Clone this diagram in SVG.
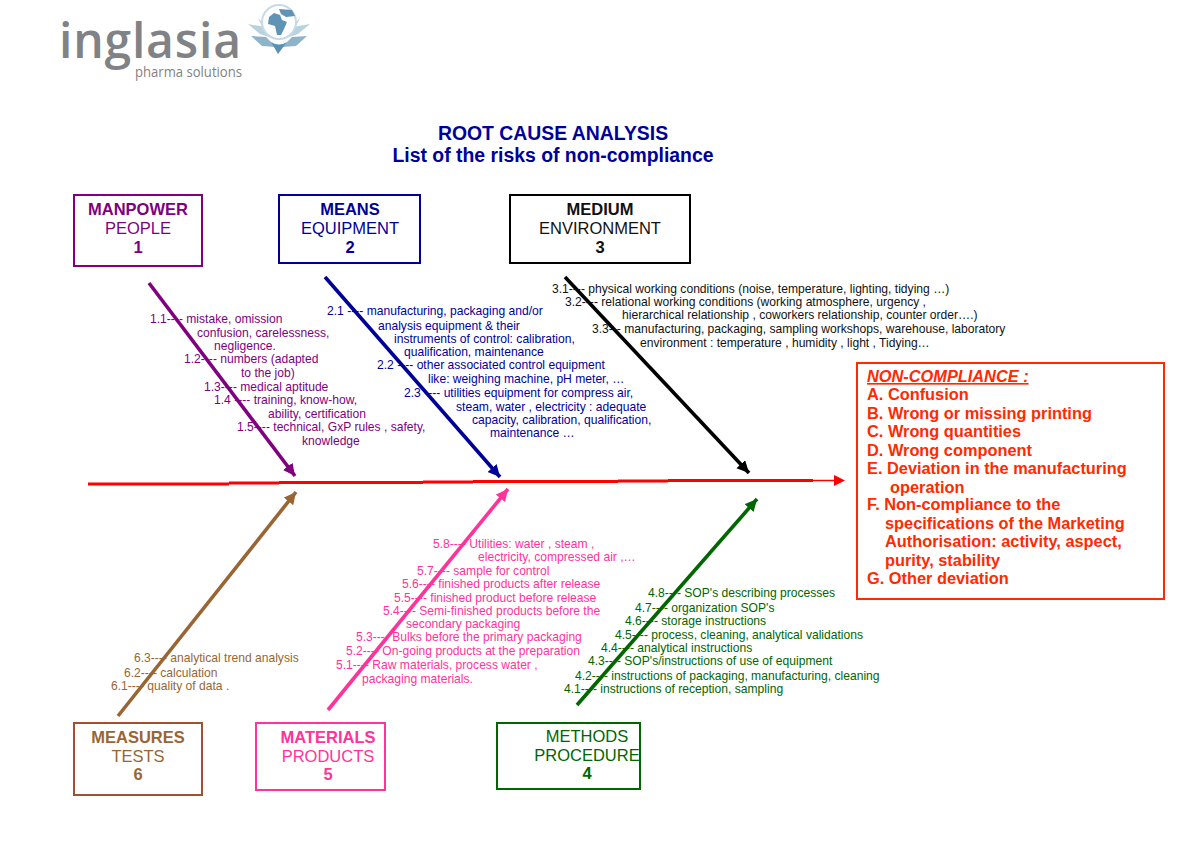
<svg xmlns="http://www.w3.org/2000/svg" width="1200" height="849" viewBox="0 0 1200 849">
<style>
text{font-family:"Liberation Sans",Arial,sans-serif}
.t{font-size:12.1px}
.h{font-size:16.5px;text-anchor:middle}
.b{font-weight:bold}
.box{fill:none;stroke-width:2}
.n{font-size:16.35px;font-weight:bold;fill:#ff2a00}
.bone{fill:none;stroke-width:3.6}
.p{fill:#800080}.e{fill:#000099}.k{fill:#111}.g{fill:#006600}.m{fill:#ff3399}.r{fill:#996633}
</style>
<defs>
<marker id="ap" markerUnits="userSpaceOnUse" markerWidth="16" markerHeight="14" refX="12" refY="6" orient="auto"><path d="M0 0L12 6L0 12z" fill="#800080"/></marker>
<marker id="ae" markerUnits="userSpaceOnUse" markerWidth="16" markerHeight="14" refX="12" refY="6" orient="auto"><path d="M0 0L12 6L0 12z" fill="#000099"/></marker>
<marker id="ak" markerUnits="userSpaceOnUse" markerWidth="16" markerHeight="14" refX="12" refY="6" orient="auto"><path d="M0 0L12 6L0 12z" fill="#000"/></marker>
<marker id="ag" markerUnits="userSpaceOnUse" markerWidth="16" markerHeight="14" refX="12" refY="6" orient="auto"><path d="M0 0L12 6L0 12z" fill="#006600"/></marker>
<marker id="am" markerUnits="userSpaceOnUse" markerWidth="16" markerHeight="14" refX="12" refY="6" orient="auto"><path d="M0 0L12 6L0 12z" fill="#ff3399"/></marker>
<marker id="ar" markerUnits="userSpaceOnUse" markerWidth="16" markerHeight="14" refX="12" refY="6" orient="auto"><path d="M0 0L12 6L0 12z" fill="#996633"/></marker>
</defs>

<g id="logo">
<text x="59" y="58" font-size="48" font-weight="600" fill="#808285" style="font-family:'Open Sans',sans-serif" textLength="182" lengthAdjust="spacing">inglasia</text>
<text x="135" y="77" font-size="15" fill="#808285" style="font-family:'Open Sans',sans-serif" textLength="107" lengthAdjust="spacingAndGlyphs">pharma solutions</text>
<path d="M248 24L265 27L272 38L260 34z M310 24L293 27L286 38L298 34z M258 18L268 28L263 28z M300 18L290 28L295 28z" fill="#b9d2df"/>
<path d="M251 36L266 37L276 47L262 46z M307 36L292 37L282 47L296 46z" fill="#8fb4ca"/>
<path d="M271 42Q279 47 287 42L278 54z" fill="#5a91b3"/>
<circle cx="279" cy="22" r="17" fill="#fff" stroke="#c6dbe6" stroke-width="2"/>
<path d="M269 17L274 13L280 15L282 20L287 22L284 29L281 35L277 35L275 26L268 24z M279 9L292 10L295 16L286 17L281 14z" fill="#5f94b5"/>
</g>

<g id="title" class="b" fill="#000099" font-size="19.4" text-anchor="middle">
<text x="553" y="140">ROOT CAUSE ANALYSIS</text>
<text x="553" y="162">List of the risks of non-compliance</text>
</g>

<g id="connectors">
<path d="M88 484H229M229 483H279M279 482.5H423M423 482H473M473 481.5H618M618 481H668M668 480.5H813" fill="none" stroke="#ff0000" stroke-width="3"/>
<path d="M813 480.5H840" stroke="#ff0000" stroke-width="1.5"/>
<path d="M834 475L845 480.5L834 486z" fill="#ff0000"/>
<path class="bone" stroke="#800080" d="M149 283L295 476" marker-end="url(#ap)"/>
<path class="bone" stroke="#000099" d="M325 277L500 477" marker-end="url(#ae)"/>
<path class="bone" stroke="#000" d="M565 277L749 473" marker-end="url(#ak)"/>
<path class="bone" stroke="#996633" d="M118 716L296 492" marker-end="url(#ar)"/>
<path class="bone" stroke="#ff3399" d="M328 710L508 489" marker-end="url(#am)"/>
<path class="bone" stroke="#006600" d="M577 705L757 499" marker-end="url(#ag)"/>
</g>

<g id="manpower" class="p">
<rect class="box" x="74" y="195" width="128" height="71" stroke="#800080"/>
<text class="h b" x="138" y="215">MANPOWER</text><text class="h" x="138" y="234">PEOPLE</text><text class="h b" x="138" y="253">1</text>
<text class="t"><tspan x="150" y="323">1.1---- mistake, omission</tspan><tspan x="197" y="337">confusion, carelessness,</tspan><tspan x="214" y="350">negligence.</tspan><tspan x="184" y="363">1.2---- numbers (adapted</tspan><tspan x="241" y="377">to the job)</tspan><tspan x="204" y="391">1.3---- medical aptitude</tspan><tspan x="214" y="404">1.4 ---- training, know-how,</tspan><tspan x="268" y="418">ability, certification</tspan><tspan x="237" y="431">1.5---- technical, GxP rules , safety,</tspan><tspan x="302" y="445">knowledge</tspan></text>
</g>

<g id="means" class="e">
<rect class="box" x="279" y="195" width="141" height="68" stroke="#000099"/>
<text class="h b" x="350" y="215">MEANS</text><text class="h" x="350" y="234">EQUIPMENT</text><text class="h b" x="350" y="253">2</text>
<text class="t"><tspan x="327" y="315">2.1 ---- manufacturing, packaging and/or</tspan><tspan x="378" y="330">analysis equipment &amp; their</tspan><tspan x="394" y="343">instruments of control: calibration,</tspan><tspan x="404" y="356">qualification, maintenance</tspan><tspan x="377" y="369">2.2 ---- other associated control equipment</tspan><tspan x="428" y="383">like: weighing machine, pH meter, …</tspan><tspan x="404" y="397">2.3 ---- utilities equipment for compress air,</tspan><tspan x="456" y="411">steam, water , electricity : adequate</tspan><tspan x="472" y="424">capacity, calibration, qualification,</tspan><tspan x="490" y="437">maintenance …</tspan></text>
</g>

<g id="medium" class="k">
<rect class="box" x="510" y="195" width="180" height="68" stroke="#000"/>
<text class="h b" x="600" y="215">MEDIUM</text><text class="h" x="600" y="234">ENVIRONMENT</text><text class="h b" x="600" y="253">3</text>
<text class="t"><tspan x="552" y="293">3.1---- physical working conditions (noise, temperature, lighting, tidying …)</tspan><tspan x="565" y="306">3.2----  relational working conditions (working atmosphere, urgency ,</tspan><tspan x="622" y="319">hierarchical relationship , coworkers relationship, counter order….)</tspan><tspan x="592" y="333">3.3--- manufacturing, packaging, sampling workshops, warehouse, laboratory</tspan><tspan x="640" y="347">environment : temperature , humidity , light , Tidying…</tspan></text>
</g>

<g id="non-compliance">
<rect x="857" y="363" width="307" height="236" fill="none" stroke="#ff2a00" stroke-width="2"/>
<text class="n" font-style="italic" x="867" y="382" text-decoration="underline">NON-COMPLIANCE :</text>
<text class="n"><tspan x="867" y="400">A. Confusion</tspan><tspan x="867" y="419">B. Wrong or missing printing</tspan><tspan x="867" y="437">C. Wrong quantities</tspan><tspan x="867" y="456">D. Wrong component</tspan><tspan x="867" y="474">E. Deviation in the manufacturing</tspan><tspan x="890" y="493">operation</tspan><tspan x="867" y="510">F. Non-compliance to the</tspan><tspan x="885" y="529">specifications of the Marketing</tspan><tspan x="885" y="547">Authorisation: activity, aspect,</tspan><tspan x="885" y="566">purity, stability</tspan><tspan x="867" y="584">G. Other deviation</tspan></text>
</g>

<g id="measures" class="r">
<rect class="box" x="74" y="723" width="128" height="72" stroke="#a0522d"/>
<text class="h b" x="138" y="743">MEASURES</text><text class="h" x="138" y="762">TESTS</text><text class="h b" x="138" y="780">6</text>
<text class="t"><tspan x="134" y="662">6.3---- analytical trend analysis</tspan><tspan x="124" y="677">6.2---- calculation</tspan><tspan x="111" y="690">6.1---- quality of data .</tspan></text>
</g>

<g id="materials" class="m">
<rect class="box" x="256" y="723" width="129" height="67" stroke="#ff3399"/>
<text class="h b" x="328" y="743">MATERIALS</text><text class="h" x="328" y="762">PRODUCTS</text><text class="h b" x="328" y="780">5</text>
<text class="t"><tspan x="433" y="548">5.8---- Utilities: water , steam ,</tspan><tspan x="478" y="561">electricity, compressed air ,…</tspan><tspan x="417" y="575">5.7---- sample for control</tspan><tspan x="402" y="588">5.6---- finished products after release</tspan><tspan x="394" y="602">5.5---- finished product before release</tspan><tspan x="383" y="615">5.4---- Semi-finished products before the</tspan><tspan x="406" y="628">secondary packaging</tspan><tspan x="356" y="641">5.3---- Bulks before the primary packaging</tspan><tspan x="346" y="655">5.2---- On-going products at the preparation</tspan><tspan x="336" y="669">5.1---- Raw materials, process water ,</tspan><tspan x="362" y="683">packaging materials.</tspan></text>
</g>

<g id="methods" class="g">
<rect class="box" x="497" y="723" width="143" height="66" stroke="#006600"/>
<text class="h" x="587" y="742">METHODS</text><text class="h" x="587" y="761">PROCEDURE</text><text class="h b" x="587" y="779">4</text>
<text class="t"><tspan x="648" y="597">4.8---- SOP's describing processes</tspan><tspan x="635" y="612">4.7---- organization SOP's</tspan><tspan x="625" y="625">4.6---- storage instructions</tspan><tspan x="615" y="639">4.5---- process, cleaning, analytical validations</tspan><tspan x="601" y="652">4.4---- analytical instructions</tspan><tspan x="588" y="665">4.3---- SOP's/instructions of use of equipment</tspan><tspan x="575" y="680">4.2---- instructions of packaging, manufacturing, cleaning</tspan><tspan x="564" y="693">4.1---- instructions of reception, sampling</tspan></text>
</g>
</svg>
